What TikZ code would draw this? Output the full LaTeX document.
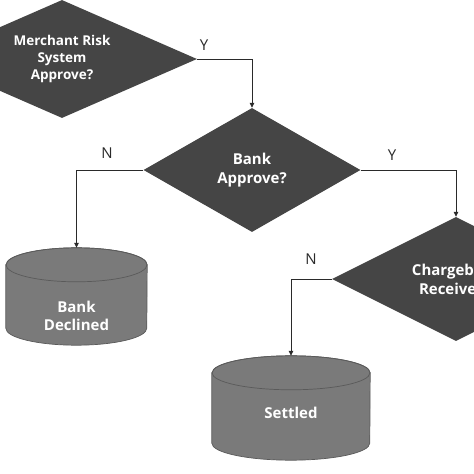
\documentclass[tikz,border=0pt]{standalone}
\usepackage{fontspec}
\setmainfont{Open Sans}
\usetikzlibrary{shapes.geometric,arrows.meta,calc}
\definecolor{dia}{HTML}{454545}
\definecolor{cylf}{HTML}{7A7A7A}
\definecolor{cyld}{HTML}{5A5A5A}
\definecolor{lbl}{HTML}{2A2A2A}
\tikzset{
 decision/.style={diamond, aspect=2.2, fill=dia, draw=none, inner sep=0pt, text=white, align=center},
 cylbox/.style={rectangle, inner sep=0pt, draw=none},
 cyltext/.style={text=white, font=\bfseries\fontsize{15}{18}\selectfont, align=center},
 flow/.style={draw=lbl, line width=0.8pt, -{Triangle[length=5pt,width=4.5pt]}},
 yn/.style={text=lbl, font=\fontsize{15}{18}\selectfont},
 cylfill/.style={fill=cylf, draw=cyld, line width=0.7pt}
}
\newcommand\drawcyl[3]{%
 \path[cylfill] let \p1=(#1.north west), \p2=(#1.south east) in
  (\x1,\y1-#3) -- (\x1,\y2+#3) arc[start angle=180,end angle=360,x radius=#2,y radius=#3]
  -- (\x2,\y1-#3) arc[start angle=0,end angle=180,x radius=#2,y radius=#3] -- cycle;
 \draw[cyld, line width=0.7pt] ($(#1.north)+(0,-#3)$) ellipse[x radius=#2, y radius=#3];
}
\begin{document}
\begin{tikzpicture}[x=1pt,y=1pt]
\useasboundingbox (0,0) rectangle (474,474);
\clip (0,0) rectangle (474,474);
\fill[white] (0,0) rectangle (474,474);
% decisions
\node[decision, minimum width=270, minimum height=118, font=\bfseries\fontsize{13.5}{17}\selectfont] (d1) at (62,415) {Merchant Risk\\System\\Approve?};
\node[decision, minimum width=217, minimum height=124, font=\bfseries\fontsize{15}{19}\selectfont] (d2) at (252,304) {Bank\\Approve?};
\node[decision, minimum width=248, minimum height=124, font=\bfseries\fontsize{15}{19}\selectfont] (d3) at (456,195) {Chargeback\\Received?};
% cylinders
\node[cylbox, minimum width=141, minimum height=97] (bd) at (76.5,177.5) {};
\node[cylbox, minimum width=158, minimum height=104] (st) at (291,66) {};
\drawcyl{bd}{70.5pt}{17pt}
\drawcyl{st}{79pt}{17pt}
\node[cyltext] (bdt) at (76.5,158) {Bank\\Declined};
\node[cyltext] (stt) at (291,61) {Settled};
% connectors
\draw[flow] (d1.east) -| (d2.north);
\draw[flow] (d2.west) -| (bd.north);
\draw[flow] (d2.east) -| (d3.north);
\draw[flow] (d3.west) -| (st.north);
% labels
\node[yn] (y1) at (204,429) {Y};
\node[yn] (y2) at (392,319) {Y};
\node[yn] (n1) at (107,321) {N};
\node[yn] (n2) at (311,215) {N};
\end{tikzpicture}
\end{document}
